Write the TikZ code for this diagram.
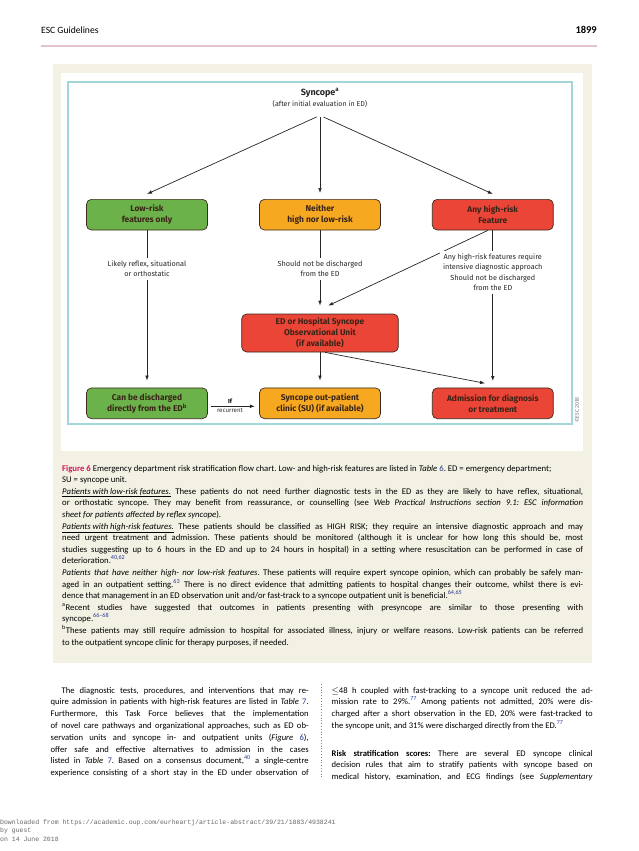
\documentclass[tikz,border=0pt]{standalone}
\usepackage{fontspec}
\setmainfont{Carlito}
\setmonofont{Liberation Mono}
\newfontfamily\dfont{Fira Sans}
\usetikzlibrary{arrows.meta}
\definecolor{figbg}{HTML}{F3F1E4}
\definecolor{cyanb}{HTML}{A3D6D9}
\definecolor{boxline}{HTML}{3D2B1F}
\definecolor{boxtext}{HTML}{3A2418}
\definecolor{boxgreen}{HTML}{6CB24B}
\definecolor{boxorange}{HTML}{F6A821}
\definecolor{boxred}{HTML}{EB4538}
\definecolor{pinkline}{HTML}{E6C3CB}
\definecolor{figred}{HTML}{D3145A}
\definecolor{refblue}{HTML}{2B3990}
\definecolor{dotblue}{HTML}{7083B3}
\newcommand\jl[1]{\hbox to \hsize{#1}}
\newcommand\rl[1]{\hbox to \hsize{#1\hfil}}
\newcommand\rf[1]{\textsuperscript{\textcolor{refblue}{#1}}}
\newcommand\bl[1]{\textcolor{refblue}{#1}}
\frenchspacing
\begin{document}
\begin{tikzpicture}[x=1pt,y=-1pt,
  fbox/.style={draw=boxline, line width=0.7pt, rounded corners=5pt, minimum width=121pt,
    minimum height=30.7pt, align=center, inner sep=0pt, text=boxtext,
    font=\dfont\bfseries\fontsize{8.4}{11}\selectfont},
  lbl/.style={fill=white, align=center, inner sep=2.8pt, text=black!85,
    font=\dfont\fontsize{7.3}{10.3}\selectfont},
  ln/.style={draw=black!85, line width=0.7pt},
  arr/.style={ln, -{Latex[length=5pt,width=3.6pt]}},
  txt/.style={inner sep=0pt, anchor=base west}]
\useasboundingbox (0,0) rectangle (638,851);
\fill[white] (0,0) rectangle (638,851);
% header
\node[txt, font=\fontsize{9.6}{10}\selectfont] (hdrL) at (41,34) {ESC Guidelines};
\node[inner sep=0pt, anchor=base east, font=\bfseries\fontsize{10.5}{11}\selectfont] (hdrR) at (597,34) {1899};
\draw[pinkline, line width=1.3pt] (41,46) -- (597,46);
% figure panel
\fill[figbg] (53,64) rectangle (592,663);
\fill[white] (61,73) rectangle (583,451);
\draw[cyanb, line width=1.1pt] (68,82) rectangle (572,424);
\node[rotate=90, inner sep=0pt, text=black!55, font=\fontsize{5.6}{6}\selectfont] (copy) at (577,410) {\textcopyright ESC 2018};
% title
\node[inner sep=0pt, font=\dfont\bfseries\fontsize{9}{10}\selectfont, text=black!85] (syn) at (320,93) {Syncope\textsuperscript{a}};
\node[inner sep=0pt, font=\dfont\fontsize{7.1}{8}\selectfont, text=black!85] (syn2) at (320,104.5) {(after initial evaluation in ED)};
\coordinate (sL) at (316.5,117);
\coordinate (sC) at (320,117);
\coordinate (sR) at (323.5,117);
% boxes
\node[fbox, fill=boxgreen] (low) at (147,214.7) {Low-risk\\features only};
\node[fbox, fill=boxorange] (neither) at (320,214.7) {Neither\\high nor low-risk};
\node[fbox, fill=boxred] (high) at (492.8,214.7) {Any high-risk\\Feature};
\node[fbox, fill=boxred, minimum width=156.6pt, minimum height=38pt] (ed) at (320,333) {ED or Hospital Syncope\\Observational Unit\\(if available)};
\node[fbox, fill=boxgreen] (disc) at (147,403.3) {Can be discharged\\directly from the ED\textsuperscript{b}};
\node[fbox, fill=boxorange] (clinic) at (320,403.3) {Syncope out-patient\\clinic (SU) (if available)};
\node[fbox, fill=boxred] (adm) at (492.8,403.3) {Admission for diagnosis\\or treatment};
% diagonal behind label
\draw[arr] ([xshift=-5pt]high.south) -- ([xshift=8.3pt,yshift=8pt]ed.north);
% labels
\node[lbl] (lowlbl) at (147,269) {Likely reflex, situational\\or orthostatic};
\node[lbl] (neitherlbl) at (320,269) {Should not be discharged\\from the ED};
\node[lbl] (highlbl) at (492.8,272.2) {Any high-risk features require\\intensive diagnostic approach\\Should not be discharged\\from the ED};
% connectors
\draw[arr] (sL) -- ([yshift=5pt]low.north);
\draw[arr] (sC) -- ([yshift=6pt]neither.north);
\draw[arr] (sR) -- ([yshift=5pt]high.north);
\draw[ln] (low.south) -- (lowlbl.north);
\draw[arr] (lowlbl.south) -- ([yshift=7pt]disc.north);
\draw[ln] (neither.south) -- (neitherlbl.north);
\draw[arr] (neitherlbl.south) -- ([yshift=8pt]ed.north);
\draw[ln] (high.south) -- (highlbl.north);
\draw[arr] (highlbl.south) -- ([yshift=6.6pt]adm.north);
\draw[arr] (ed.south) -- ([yshift=7pt]clinic.north);
\draw[arr] ([xshift=5pt]ed.south) -- ([xshift=-7.8pt,yshift=4.3pt]adm.north);
\draw[arr] ([xshift=3.4pt,yshift=-3pt]disc.east) -- ([xshift=-4.3pt,yshift=-3pt]clinic.west);
\node[inner sep=0pt, font=\dfont\bfseries\fontsize{6}{6}\selectfont] (iflbl) at (230,401) {If};
\node[inner sep=0pt, font=\dfont\fontsize{6.2}{6}\selectfont, text=black!80] (reclbl) at (230,410.5) {recurrent};
% caption
\node[txt] (cap) at (62,471) {\parbox[t]{521pt}{\fontsize{8.7}{11.6}\selectfont
\rl{{\bfseries\color{figred}Figure 6} Emergency department risk stratification flow chart. Low- and high-risk features are listed in \textit{Table} \bl{6}. ED = emergency department;}
\rl{SU = syncope unit.}
\jl{\underline{\textit{Patients with low-risk features.}} These patients do not need further diagnostic tests in the ED as they are likely to have reflex, situational,}
\jl{or orthostatic syncope. They may benefit from reassurance, or counselling (see \textit{Web Practical Instructions section 9.1: ESC information}}
\rl{\textit{sheet for patients affected by reflex syncope}).}
\jl{\underline{\textit{Patients with high-risk features.}} These patients should be classified as HIGH RISK; they require an intensive diagnostic approach and may}
\jl{need urgent treatment and admission. These patients should be monitored (although it is unclear for how long this should be, most}
\jl{studies suggesting up to 6 hours in the ED and up to 24 hours in hospital) in a setting where resuscitation can be performed in case of}
\rl{deterioration.\rf{40,62}}
\jl{\textit{Patients that have neither high- nor low-risk features}. These patients will require expert syncope opinion, which can probably be safely man-}
\jl{aged in an outpatient setting.\rf{63} There is no direct evidence that admitting patients to hospital changes their outcome, whilst there is evi-}
\rl{dence that management in an ED observation unit and/or fast-track to a syncope outpatient unit is beneficial.\rf{64,65}}
\jl{\textsuperscript{a}Recent studies have suggested that outcomes in patients presenting with presyncope are similar to those presenting with}
\rl{syncope.\rf{66–68}}
\jl{\textsuperscript{b}These patients may still require admission to hospital for associated illness, injury or welfare reasons. Low-risk patients can be referred}
\rl{to the outpatient syncope clinic for therapy purposes, if needed.}
}};
% body columns
\node[txt] (colL) at (50.5,693) {\parbox[t]{258pt}{\fontsize{8.6}{11.8}\selectfont
\jl{\hskip 11pt The diagnostic tests, procedures, and interventions that may re-}
\jl{quire admission in patients with high-risk features are listed in \textit{Table} \bl{7}.}
\jl{Furthermore, this Task Force believes that the implementation}
\jl{of novel care pathways and organizational approaches, such as ED ob-}
\jl{servation units and syncope in- and outpatient units (\textit{Figure} \bl{6}),}
\jl{offer safe and effective alternatives to admission in the cases}
\jl{listed in \textit{Table} \bl{7}. Based on a consensus document,\rf{40} a single-centre}
\jl{experience consisting of a short stay in the ED under observation of}
}};
\node[txt] (colR) at (331.5,693) {\parbox[t]{261pt}{\fontsize{8.6}{11.8}\selectfont
\jl{$\leq$48 h coupled with fast-tracking to a syncope unit reduced the ad-}
\jl{mission rate to 29\%.\rf{77} Among patients not admitted, 20\% were dis-}
\jl{charged after a short observation in the ED, 20\% were fast-tracked to}
\rl{the syncope unit, and 31\% were discharged directly from the ED.\rf{77}}
\vskip 15.8pt
\jl{\textbf{Risk stratification scores:} There are several ED syncope clinical}
\jl{decision rules that aim to stratify patients with syncope based on}
\jl{medical history, examination, and ECG findings (see \textit{Supplementary}}
}};
\draw[dotblue, line width=0.8pt, dotted] (321,684) -- (321,778);
% footer
\node[txt, font=\ttfamily\fontsize{6.5}{8}\selectfont, text=black!60] (ft1) at (0,824) {Downloaded from https://academic.oup.com/eurheartj/article-abstract/39/21/1883/4938241};
\node[txt, font=\ttfamily\fontsize{6.5}{8}\selectfont, text=black!60] (ft2) at (0,832.5) {by guest};
\node[txt, font=\ttfamily\fontsize{6.5}{8}\selectfont, text=black!60] (ft3) at (0,841) {on 14 June 2018};
\end{tikzpicture}
\end{document}
